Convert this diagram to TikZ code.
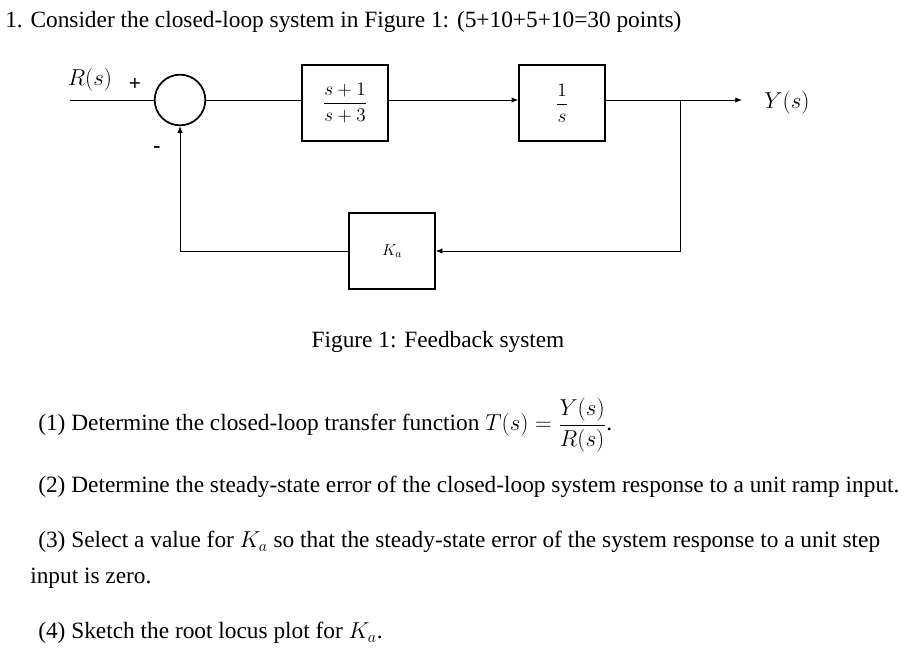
\documentclass[tikz,border=0pt]{standalone}
\usepackage{fontspec}
\setmainfont{Liberation Serif}
\usetikzlibrary{arrows.meta}
\begin{document}
\begin{tikzpicture}[x=0.75pt,y=-0.75pt,
  blk/.style={draw,line width=1.6pt,minimum width=64pt,minimum height=57pt,inner sep=0pt,font=\fontsize{15}{17}\selectfont},
  ln/.style={line width=0.6pt},
  arr/.style={ln,-{Latex[length=5pt,width=4pt]}},
  txt/.style={inner sep=0pt,font=\fontsize{17.5}{20}\selectfont},
  dtxt/.style={inner sep=0pt,font=\fontsize{16}{18}\selectfont}]
\useasboundingbox (0,0) rectangle (919,658);
\node[txt,anchor=west] (title) at (5,22) {1. Consider the closed-loop system in Figure 1: (5+10+5+10=30 points)};
\node[draw,circle,line width=1.3pt,minimum size=38pt,inner sep=0pt] (sum) at (180,100) {};
\node[blk] (b1) at (345,103) {$\displaystyle\frac{s+1}{s+3}$};
\node[blk] (b2) at (562,103) {$\displaystyle\frac{1}{s}$};
\node[blk] (ka) at (392,251) {\large$K_a$};
\coordinate (in) at (70,100);
\coordinate (out) at (742,100);
\coordinate (br) at (680,100);
\node[dtxt] (r) at (90,80) {$R(s)$};
\node[dtxt] (plus) at (135,84) {\textbf{+}};
\node[dtxt] (minus) at (157,150) {\textbf{-}};
\node[dtxt] (y) at (787,103) {$Y(s)$};
\draw[ln] (in) -- (sum.west);
\draw[ln] (sum.east) -- (b1.west |- sum);
\draw[arr] (b1.east |- sum) -- (b2.west |- sum);
\draw[arr] (b2.east |- sum) -- (out);
\draw[arr] (br) |- (ka.east);
\draw[arr] (ka.west) -| (sum.south);
\node[txt] (cap) at (438,342) {Figure 1: Feedback system};
\node[txt,anchor=west] (q1) at (38,425) {(1) Determine the closed-loop transfer function $T(s)=\displaystyle\frac{Y(s)}{R(s)}$.};
\node[txt,anchor=west] (q2) at (38,487) {(2) Determine the steady-state error of the closed-loop system response to a unit ramp input.};
\node[txt,anchor=west] (q3) at (38,542) {(3) Select a value for $K_a$ so that the steady-state error of the system response to a unit step};
\node[txt,anchor=west] (q3b) at (30,578) {input is zero.};
\node[txt,anchor=west] (q4) at (38,633) {(4) Sketch the root locus plot for $K_a$.};
\end{tikzpicture}
\end{document}
